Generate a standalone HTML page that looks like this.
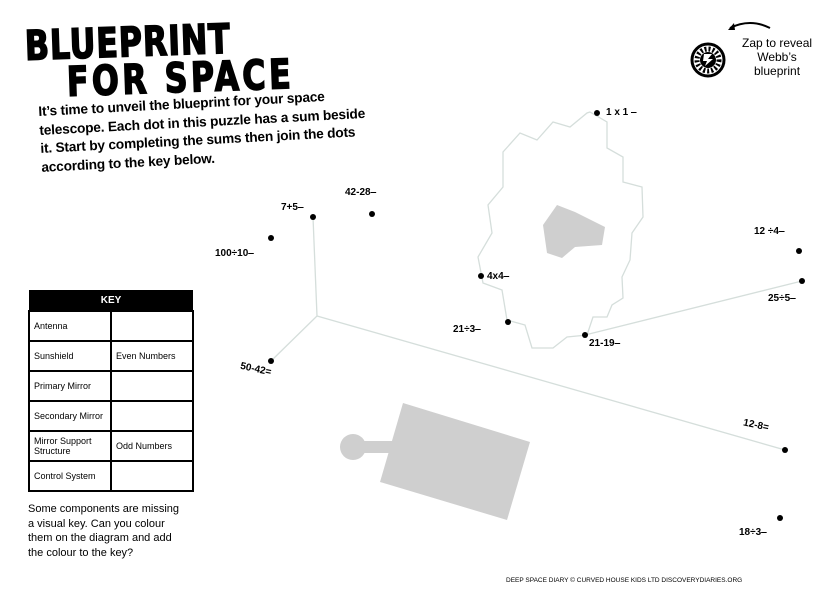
<!DOCTYPE html>
<html><head><meta charset="utf-8"><style>
body{margin:0;width:839px;height:595px;background:#fff;overflow:hidden;position:relative;font-family:"Liberation Sans",sans-serif;}
.t{position:absolute;font-family:"DejaVu Sans Condensed","Liberation Sans Narrow",sans-serif;font-weight:900;font-size:41px;color:#000;transform:rotate(-2deg) scaleX(0.86);transform-origin:left top;-webkit-text-stroke:1.5px #000;white-space:nowrap;}
.p{position:absolute;left:38px;top:103px;font-weight:bold;font-size:13.7px;line-height:18.5px;transform:rotate(-3deg);transform-origin:left top;white-space:nowrap;letter-spacing:-0.2px;}
table{position:absolute;left:28px;top:290px;border-collapse:collapse;width:166px;font-size:9px;}
td{border:2px solid #000;height:28px;padding:0 4px;width:50%;}
th{background:#000;color:#fff;height:18px;font-size:10px;}
.n{position:absolute;font-weight:bold;font-size:10px;}
</style></head><body>
<div class="t" style="left:24px;top:22px;letter-spacing:1px;">BLUEPRINT</div>
<div class="t" style="left:66px;top:58px;letter-spacing:4px;">FOR SPACE</div>
<div class="p">It’s time to unveil the blueprint for your space<br>telescope. Each dot in this puzzle has a sum beside<br>it. Start by completing the sums then join the dots<br>according to the key below.</div>
<table><tr><th colspan="2">KEY</th></tr>
<tr><td>Antenna</td><td></td></tr>
<tr><td>Sunshield</td><td>Even Numbers</td></tr>
<tr><td>Primary Mirror</td><td></td></tr>
<tr><td>Secondary Mirror</td><td></td></tr>
<tr><td style="line-height:10px">Mirror Support Structure</td><td>Odd Numbers</td></tr>
<tr><td>Control System</td><td></td></tr></table>
<div style="position:absolute;left:28px;top:502px;font-size:11px;line-height:14.5px;white-space:nowrap;">Some components are missing<br>a visual key. Can you colour<br>them on the diagram and add<br>the colour to the key?</div>
<div style="position:absolute;left:742px;top:36px;font-size:12px;line-height:14px;text-align:center;">Zap to reveal<br>Webb’s<br>blueprint</div>
<div style="position:absolute;left:506px;top:577px;font-size:6.5px;">DEEP SPACE DIARY © CURVED HOUSE KIDS LTD DISCOVERYDIARIES.ORG</div>
<svg width="839" height="595" style="position:absolute;left:0;top:0">
<path d="M770 28 Q750 18 730 28" fill="none" stroke="#000" stroke-width="2"/><path d="M728 30 l6 -7 l1 7z" fill="#000"/>
<circle cx="708" cy="60" r="16" fill="#fff" stroke="#000" stroke-width="3"/>
<circle cx="708" cy="60" r="11" fill="none" stroke="#000" stroke-width="5" stroke-dasharray="2 2"/>
<circle cx="708" cy="60" r="8" fill="#000"/>
<path d="M704 54 l8 0 l-4 5 l5 0 l-8 7 l2 -5 l-4 0z" fill="#fff"/>
<g fill="none" stroke="#d5dedb" stroke-width="1.3">
<polygon points="590,112 607,122 607,148 623,157 623,182 642,187 643,217 632,233 630,260 622,277 623,298 612,305 607,317 593,317 587,335 567,337 553,348 532,348 525,325 507,320 502,290 483,283 478,257 492,233 488,205 503,187 503,152 520,133 537,140 553,122 570,127 587,113"/>
<polyline points="313,217 317,316 271,361"/>
<line x1="317" y1="316" x2="785" y2="450"/>
<line x1="585" y1="335" x2="802" y2="281"/>
</g>
<polygon fill="#cfcfcf" points="557,205 575,212 605,227 602,245 575,247 562,258 547,253 543,225"/>
<polygon fill="#cfcfcf" points="403,403 530,442 507,520 380,482"/>
<rect x="360" y="441" width="35" height="12" fill="#cfcfcf"/>
<circle cx="353" cy="447" r="13" fill="#cfcfcf"/>
<g fill="#000">
<circle cx="597" cy="113" r="3"/><circle cx="313" cy="217" r="3"/><circle cx="372" cy="214" r="3"/><circle cx="271" cy="238" r="3"/><circle cx="481" cy="276" r="3"/><circle cx="508" cy="322" r="3"/><circle cx="585" cy="335" r="3"/><circle cx="799" cy="251" r="3"/><circle cx="802" cy="281" r="3"/><circle cx="271" cy="361" r="3"/><circle cx="785" cy="450" r="3"/><circle cx="780" cy="518" r="3"/>
</g></svg>
<div class="n" style="left:606px;top:107px">1 x 1 ‒</div>
<div class="n" style="left:281px;top:202px">7+5‒</div>
<div class="n" style="left:345px;top:187px">42-28‒</div>
<div class="n" style="left:215px;top:248px">100÷10‒</div>
<div class="n" style="left:487px;top:271px">4x4‒</div>
<div class="n" style="left:453px;top:324px">21÷3‒</div>
<div class="n" style="left:589px;top:338px">21-19‒</div>
<div class="n" style="left:754px;top:226px">12 ÷4‒</div>
<div class="n" style="left:768px;top:293px">25÷5‒</div>
<div class="n" style="left:240px;top:364px;transform:rotate(12deg)">50-42=</div>
<div class="n" style="left:743px;top:420px;transform:rotate(12deg)">12-8=</div>
<div class="n" style="left:739px;top:527px">18÷3‒</div>
</body></html>
